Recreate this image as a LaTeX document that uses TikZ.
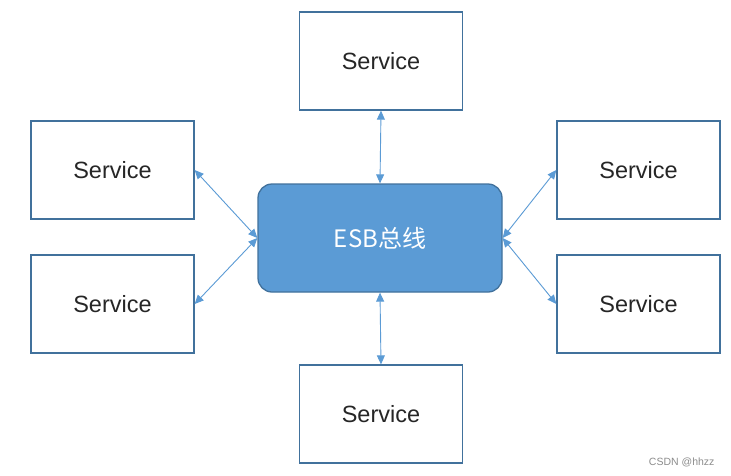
\documentclass[tikz,border=0pt]{standalone}
\usepackage{fontspec}
\setmainfont{Liberation Sans}
\newfontfamily\cjk{Noto Sans CJK SC}
\usetikzlibrary{arrows.meta}
\definecolor{boxline}{HTML}{41719C}
\definecolor{esbfill}{HTML}{5B9BD5}
\definecolor{arrowc}{HTML}{5B9BD5}
\begin{document}
\begin{tikzpicture}[x=1pt,y=-1pt,
  svc/.style={draw=boxline,line width=1.3pt,fill=white,minimum width=163pt,minimum height=98pt,inner sep=0pt,font=\fontsize{23.5}{27}\selectfont,text=black!85},
  esb/.style={draw=boxline,line width=1.3pt,fill=esbfill,rounded corners=14pt,minimum width=244pt,minimum height=108pt,inner sep=0pt,text=white,font=\cjk\fontsize{24}{28}\selectfont},
  link/.style={draw=arrowc,line width=0.9pt,{Triangle[length=9pt,width=8pt]}-{Triangle[length=9pt,width=8pt]}}]
\useasboundingbox (0,0) rectangle (731,475);
\fill[white] (0,0) rectangle (731,475);
\node[svc] (top) at (381,61) {Service};
\node[svc] (lt) at (112.5,170) {Service};
\node[svc] (lb) at (112.5,304) {Service};
\node[svc] (rt) at (638.5,170) {Service};
\node[svc] (rb) at (638.5,304) {Service};
\node[svc] (bot) at (381,414) {Service};
\node[esb] (esb) at (380,238) {ESB总线};
\draw[link] (top.south) -- (esb.north);
\draw[link] (bot.north) -- (esb.south);
\draw[link] (lt.east) -- (esb.west);
\draw[link] (lb.east) -- (esb.west);
\draw[link] (rt.west) -- (esb.east);
\draw[link] (rb.west) -- (esb.east);
\node[font=\fontsize{10.5}{12}\selectfont,text=black!45,anchor=east] (wm) at (718,462) {CSDN @hhzz};
\end{tikzpicture}
\end{document}
